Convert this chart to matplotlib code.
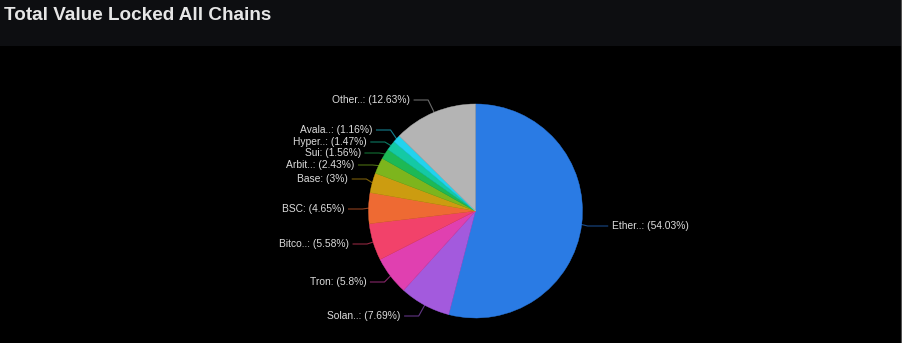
import matplotlib
matplotlib.use("Agg")
import matplotlib.pyplot as plt
import numpy as np

labels = ["Ether..", "Solan..", "Tron", "Bitco..", "BSC", "Base", "Arbit..", "Sui", "Hyper..", "Avala..", "Other.."]
values = [54.03, 7.69, 5.8, 5.58, 4.65, 3, 2.43, 1.56, 1.47, 1.16, 12.63]
colors = ["#2a7be4", "#a35add", "#e040b0", "#f2426a", "#ee6a33", "#cc9c10",
          "#7db51d", "#1db955", "#14c9a4", "#22d3ee", "#b4b4b4"]
pct_text = ["54.03%", "7.69%", "5.8%", "5.58%", "4.65%", "3%", "2.43%", "1.56%", "1.47%", "1.16%", "12.63%"]

W, H = 903, 343
fig = plt.figure(figsize=(W / 100, H / 100), dpi=100, facecolor="black")

ax = fig.add_axes([0, 0, 1, 1])
ax.set_facecolor("black")

def py(y):
    return H - y

cx, cy, r = 475.5, py(211), 107
wedges, _ = ax.pie(values, colors=colors, startangle=90, counterclock=False,
                   radius=r, center=(cx, cy), frame=True,
                   wedgeprops=dict(linewidth=0.3, edgecolor="none"))
for w in wedges:
    w.set_edgecolor(w.get_facecolor())
ax.set_xlim(0, W)
ax.set_ylim(0, H)
ax.set_aspect("auto")
ax.axis("off")

label_y = {"Ether..": 226, "Solan..": 316, "Tron": 282, "Bitco..": 244, "BSC": 209,
           "Base": 179, "Arbit..": 165, "Sui": 153, "Hyper..": 142, "Avala..": 130, "Other..": 100}

total = sum(values)
cum = 0
for lab, v, col, pt in zip(labels, values, colors, pct_text):
    mid = cum + v / 2
    cum += v
    ang = np.deg2rad(90 - mid / total * 360)
    ex = cx + r * np.cos(ang)
    ey = cy + r * np.sin(ang)
    ty = py(label_y[lab])
    right = np.cos(ang) > 0
    if right:
        kx = ex + 6
        hx = kx + 20
        ax.plot([ex, kx, hx], [ey, ty, ty], color=col, lw=0.8, alpha=0.6)
        ax.text(hx + 4, ty, f"{lab}: ({pt})", color="#dcdcdc", fontsize=7.4,
                va="center", ha="left", family="Liberation Sans")
    else:
        kx = ex - 6
        hx = kx - 14
        ax.plot([ex, kx, hx], [ey, ty, ty], color=col, lw=0.8, alpha=0.6)
        ax.text(hx - 4, ty, f"{lab}: ({pt})", color="#dcdcdc", fontsize=7.4,
                va="center", ha="right", family="Liberation Sans")

bar = fig.add_axes([0, 1 - 46 / H, 1, 46 / H])
bar.set_facecolor("#0d0e11")
bar.set_xticks([]); bar.set_yticks([])
for s in bar.spines.values():
    s.set_visible(False)
fig.text(4 / W, 1 - 15 / H, "Total Value Locked All Chains", color="#e6e6e6",
         fontsize=13.6, fontweight="bold", va="center", ha="left", family="Liberation Sans")

fig.add_artist(plt.Line2D([901 / W, 901 / W], [0, 1], color="#555555", lw=0.8))

fig.savefig("out.png", dpi=100, facecolor="black")
